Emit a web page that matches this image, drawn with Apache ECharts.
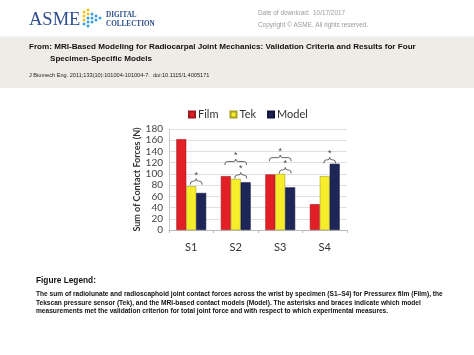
<!DOCTYPE html>
<html>
<head>
<meta charset="utf-8">
<script src="https://cdn.jsdelivr.net/npm/echarts@6/dist/echarts.min.js"></script>
<style>
html,body{margin:0;padding:0;background:#fff;}
#c{width:474px;height:355px;}
</style>
</head>
<body>
<div id="c"></div>
<script>
// ---- data ----
var categories = ['S1', 'S2', 'S3', 'S4'];
var filmValues = [162, 96, 99, 46];
var tekValues = [78, 91, 100, 96];
var modelValues = [66, 85, 76, 118];
var yTicks = [0, 20, 40, 60, 80, 100, 120, 140, 160, 180];
// braces: category index, from bar (0=Film,1=Tek,2=Model), to bar, level (N)
var braceCategory = [0, 1, 1, 2, 2, 3];
var braceFrom = [1, 0, 1, 0, 1, 1];
var braceTo = [2, 2, 2, 2, 2, 2];
var braceLevel = [87, 122, 98, 129, 107, 125];

var seriesNames = ['Film', 'Tek', 'Model'];
var colors = ['#e31f26', '#f6ee2a', '#1d2657'];
var borders = ['#9e1a1e', '#a8a020', '#10163a'];
var GAP = 0.33;

var chart = echarts.init(document.getElementById('c'), null, {renderer: 'canvas'});

function braceItem(params, api) {
  var cat = api.value(0), from = api.value(1), to = api.value(2), lvl = api.value(3);
  var c = api.coord([cat, lvl]);
  var band = api.size([1, 0])[0];
  var bw = band * (1 - GAP) / 3;
  var x1 = c[0] + (from - 1) * bw - 1;
  var x2 = c[0] + (to - 1) * bw + 1;
  var y = c[1];
  var xm = (x1 + x2) / 2;
  var h = 2.5;
  var d = 'M' + x1 + ' ' + (y + h + 1) +
    ' Q' + x1 + ' ' + y + ' ' + (x1 + h) + ' ' + y +
    ' L' + (xm - h) + ' ' + y +
    ' Q' + xm + ' ' + y + ' ' + xm + ' ' + (y - h) +
    ' Q' + xm + ' ' + y + ' ' + (xm + h) + ' ' + y +
    ' L' + (x2 - h) + ' ' + y +
    ' Q' + x2 + ' ' + y + ' ' + x2 + ' ' + (y + h + 1);
  return {
    type: 'group',
    children: [
      {type: 'path', shape: {pathData: d}, style: {fill: 'none', stroke: '#555', lineWidth: 0.9}},
      {type: 'text', x: xm, y: y - 6, style: {text: '*', fill: '#444', font: '9px "Liberation Sans"', align: 'center', verticalAlign: 'middle'}}
    ]
  };
}

var braceData = braceCategory.map(function (c, i) {
  return [c, braceFrom[i], braceTo[i], braceLevel[i]];
});

var valueArrays = [filmValues, tekValues, modelValues];

var barSeries = seriesNames.map(function (n, i) {
  return {
    name: n, type: 'bar', data: valueArrays[i],
    barGap: '0%', barCategoryGap: (GAP * 100) + '%',
    itemStyle: {color: colors[i], borderColor: borders[i], borderWidth: 0.6},
    z: 2
  };
});

var bodyFont = 'bold 6.6px "Liberation Sans"';
var graphics = [
  // header logo
  {type: 'text', x: 29, y: 20, style: {text: 'ASME', font: '18.5px "Liberation Serif"', fill: '#2f4f8f', verticalAlign: 'middle'}},
  {type: 'text', x: 106, y: 15, style: {text: 'DIGITAL', font: 'bold 7.2px "Liberation Serif"', fill: '#2f4f8f', verticalAlign: 'middle'}},
  {type: 'text', x: 106, y: 24, style: {text: 'COLLECTION', font: 'bold 7.2px "Liberation Serif"', fill: '#2f4f8f', verticalAlign: 'middle'}},
  {type: 'text', x: 258, y: 13, style: {text: 'Date of download:  10/17/2017', font: '6.4px "Liberation Sans"', fill: '#9a9a9a', verticalAlign: 'middle'}},
  {type: 'text', x: 258, y: 25, style: {text: 'Copyright \u00a9 ASME. All rights reserved.', font: '6.4px "Liberation Sans"', fill: '#9a9a9a', verticalAlign: 'middle'}},
  {type: 'rect', shape: {x: 0, y: 38, width: 474, height: 50}, style: {fill: '#efece7'}, z: -1},
  {type: 'text', x: 29, y: 47, style: {text: 'From: MRI-Based Modeling for Radiocarpal Joint Mechanics: Validation Criteria and Results for Four', font: 'bold 8.1px "Liberation Sans"', fill: '#111', verticalAlign: 'middle'}},
  {type: 'text', x: 50, y: 58.5, style: {text: 'Specimen-Specific Models', font: 'bold 8.1px "Liberation Sans"', fill: '#111', verticalAlign: 'middle'}},
  {type: 'text', x: 29, y: 75, style: {text: 'J Biomech Eng. 2011;133(10):101004-101004-7.  doi:10.1115/1.4005171', font: '5.6px "Liberation Sans"', fill: '#222', verticalAlign: 'middle'}},
  {type: 'text', x: 36, y: 281, style: {text: 'Figure Legend:', font: 'bold 8.3px "Liberation Sans"', fill: '#111', verticalAlign: 'middle'}},
  {type: 'text', x: 36, y: 294.5, style: {text: 'The sum of radiolunate and radioscaphoid joint contact forces across the wrist by specimen (S1\u2013S4) for Pressurex film (Film), the', font: bodyFont, fill: '#111', verticalAlign: 'middle'}},
  {type: 'text', x: 36, y: 302.8, style: {text: 'Tekscan pressure sensor (Tek), and the MRI-based contact models (Model). The asterisks and braces indicate which model', font: bodyFont, fill: '#111', verticalAlign: 'middle'}},
  {type: 'text', x: 36, y: 311, style: {text: 'measurements met the validation criterion for total joint force and with respect to which experimental measures.', font: bodyFont, fill: '#111', verticalAlign: 'middle'}}
];
// logo dots
var dotCols = [[84, [12, 16, 20, 24], ['#f2c21b', '#f2c21b', '#f2c21b', '#3aa0dc']],
               [88, [10, 14, 18, 22, 26], ['#f2c21b', '#f2c21b', '#3aa0dc', '#3aa0dc', '#3aa0dc']],
               [92, [14, 18, 22], ['#3aa0dc', '#3aa0dc', '#3aa0dc']],
               [96, [16, 20], ['#3aa0dc', '#3aa0dc']],
               [100, [18], ['#3aa0dc']]];
dotCols.forEach(function (col) {
  col[1].forEach(function (y, j) {
    graphics.push({type: 'circle', shape: {cx: col[0], cy: y, r: 1.5}, style: {fill: col[2][j]}});
  });
});
graphics.push({type: 'line', shape: {x1: 0, y1: 37, x2: 474, y2: 37}, style: {stroke: '#e2e2e2', lineWidth: 1}});

var option = {
  animation: false,
  backgroundColor: '#fff',
  textStyle: {fontFamily: 'Lato'},
  legend: {
    data: seriesNames, top: 104, left: 183,
    itemWidth: 6, itemHeight: 6, itemGap: 11,
    icon: 'rect',
    textStyle: {fontSize: 11, color: '#333', fontFamily: 'Lato', padding: [0, 0, 0, -2]}
  },
  grid: {left: 169, right: 127, top: 129, bottom: 125, containLabel: false},
  xAxis: {
    type: 'category', data: categories,
    axisLine: {lineStyle: {color: '#bbb'}},
    axisTick: {show: true, length: 3, lineStyle: {color: '#bbb'}},
    axisLabel: {fontSize: 11, color: '#333', margin: 12, fontFamily: 'Lato'}
  },
  yAxis: {
    type: 'value', min: yTicks[0], max: yTicks[yTicks.length - 1], interval: yTicks[1] - yTicks[0],
    name: 'Sum of Contact Forces (N)', nameLocation: 'middle', nameGap: 27,
    nameTextStyle: {fontSize: 9, fontWeight: 'bold', color: '#333', fontFamily: 'Lato'},
    axisLine: {show: true, lineStyle: {color: '#ccc'}},
    axisTick: {show: false},
    axisLabel: {fontSize: 10, color: '#444', margin: 6, fontFamily: 'Lato'},
    splitLine: {lineStyle: {color: '#d8d8d8', width: 0.8}}
  },
  series: barSeries.concat([{
    type: 'custom', renderItem: braceItem, data: braceData, z: 5,
    encode: {x: 0, y: 3}, silent: true
  }]),
  graphic: graphics
};
chart.setOption(option);
</script>
</body>
</html>
